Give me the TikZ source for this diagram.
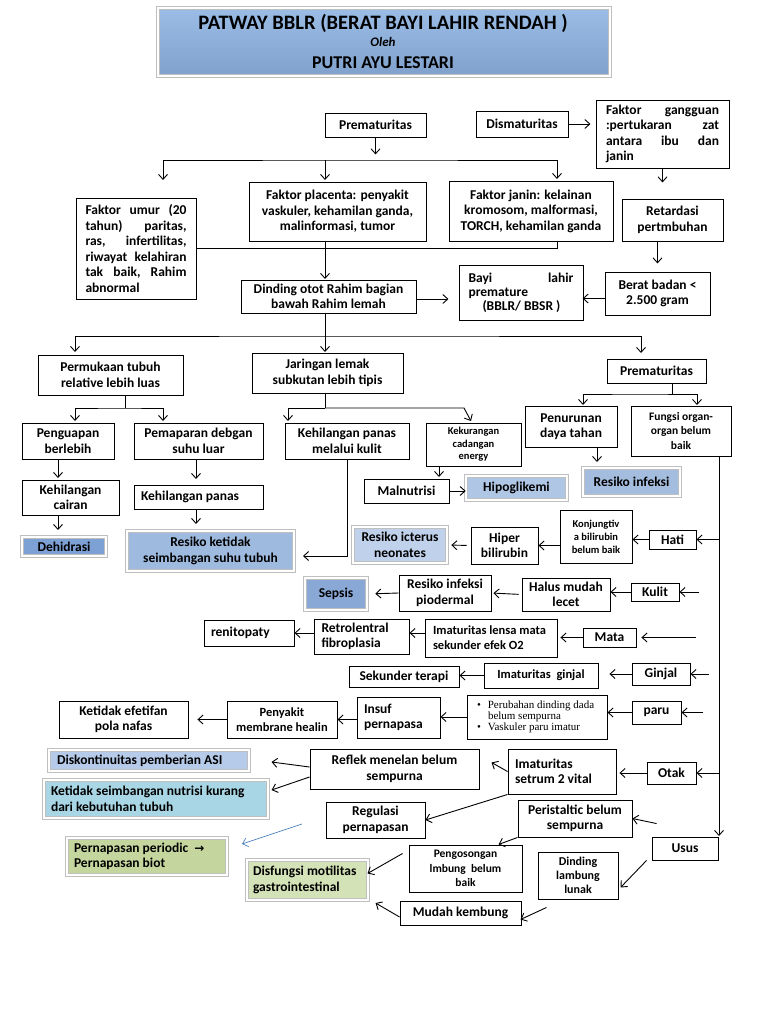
\documentclass[tikz,border=0pt]{standalone}
\usepackage{fontspec}
\setmainfont{Carlito}
\newfontfamily\timesf{Liberation Serif}
\newfontfamily\djv{DejaVu Sans}
\usetikzlibrary{arrows.meta,shadows}
\definecolor{titleblue}{RGB}{141,179,226}
\definecolor{dehblue}{RGB}{125,161,212}
\definecolor{ketblue}{RGB}{158,186,222}
\definecolor{sepblue}{RGB}{137,168,214}
\definecolor{infblue}{RGB}{164,189,222}
\definecolor{hipoblue}{RGB}{176,198,229}
\definecolor{icblue}{RGB}{191,209,235}
\definecolor{diskblue}{RGB}{182,203,233}
\definecolor{cyanbox}{RGB}{168,214,228}
\definecolor{greenA}{RGB}{196,214,158}
\definecolor{greenB}{RGB}{212,226,184}
\definecolor{arrowblue}{RGB}{79,129,189}
\tikzset{
  box/.style={draw, fill=white, line width=.9pt, inner sep=2pt, align=center,
    font=\fontsize{13.5}{15.5}\selectfont\bfseries},
  soft/.style={draw=black!25, double=white, double distance=2.4pt, line width=.6pt,
    fill=#1, inner sep=2pt, align=center, font=\fontsize{13.5}{15.5}\selectfont\bfseries,
    drop shadow={opacity=.25,shadow xshift=1pt,shadow yshift=-1pt}},
}
\begin{document}
\begin{tikzpicture}[x=1pt,y=-1pt,line width=.9pt,>={Straight Barb[length=5pt,width=9pt]}]
\useasboundingbox (0,0) rectangle (768,1024);
% judul
\node[soft=titleblue, top color=titleblue!88!white, bottom color=titleblue!90!black,
  minimum width=452pt, minimum height=68pt] (title) at (384,42) {};
\node[font=\fontsize{20.5}{22}\selectfont\bfseries] (ttl1) at (383,23) {PATWAY BBLR (BERAT BAYI LAHIR RENDAH )};
\node[font=\fontsize{13}{14}\selectfont\bfseries\itshape] (ttl2) at (383,42) {Oleh};
\node[font=\fontsize{18}{19}\selectfont\bfseries] (ttl3) at (383,63) {PUTRI AYU LESTARI};
% penyebab
\node[box, minimum width=101pt, minimum height=24pt] (prem1) at (375.5,125) {Prematuritas};
\node[box, minimum width=92pt, minimum height=26pt] (dismat) at (522,124) {Dismaturitas};
\node[box, text width=113pt, inner xsep=10pt, minimum height=68pt, align=flush left] (fgang) at (662.5,134)
  {Faktor\hfill gangguan\\ :pertukaran\hfill zat\\ antara\hfill ibu\hfill dan\\ janin};
\node[box, text width=101pt, inner xsep=9.5pt, minimum height=101pt, align=flush left] (umur) at (136,248.5)
  {Faktor\hfill umur\hfill (20\\ tahun)\hfill paritas,\\ ras,\hfill infertilitas,\\ riwayat\hfill kelahiran\\ tak\hfill baik,\hfill Rahim\\ abnormal};
\node[box, minimum width=177pt, minimum height=59pt] (plac) at (337.5,211.5) {Faktor placenta: penyakit\\ vaskuler, kehamilan ganda,\\ malinformasi, tumor};
\node[box, minimum width=164pt, minimum height=60pt] (janin) at (531,211) {Faktor janin: kelainan\\ kromosom, malformasi,\\ TORCH, kehamilan ganda};
\node[box, minimum width=101pt, minimum height=42pt] (retard) at (672.5,220) {Retardasi\\ pertmbuhan};
\node[box, minimum width=105pt, minimum height=43pt] (berat) at (657.5,293.5) {Berat badan <\\ 2.500 gram};
\node[box, text width=105pt, inner xsep=9.5pt, minimum height=55pt, align=flush left,
  font=\fontsize{13.5}{14}\selectfont\bfseries] (bayi) at (521,292.5) {Bayi\hfill lahir\\ premature\\ \hspace*{14pt}(BBLR/ BBSR )};
\node[box, minimum width=175pt, minimum height=33pt, inner sep=1pt,
  font=\fontsize{13.5}{15}\selectfont\bfseries] (dind) at (328.5,296.5) {Dinding otot Rahim bagian\\ bawah Rahim lemah};
\draw[->] (prem1.south) -- ++(0,17);
\draw[<->] (163,180) |- (360,160) -| (557,179);
\draw[->] (325,160) -- (325,180);
\draw (umur.east) -| (557,241);
\draw[->] (325,241) -- (325,279);
\draw[->] (dismat.east) -- ++(22,0);
\draw[->] (fgang.south) -- ++(0,14);
\draw[->] (retard.south -| berat.north) -- ++(0,22);
\draw[->] ([yshift=-2.5pt]dind.east) -- ++(32,0);
\draw[->] ([yshift=-5pt]berat.west) -- ++(-22,0);
% cabang
\node[box, minimum width=145pt, minimum height=40pt] (perm) at (110.5,375) {Permukaan tubuh\\ relative lebih luas};
\node[box, minimum width=151pt, minimum height=40pt] (jar) at (327.5,373) {Jaringan lemak\\ subkutan lebih tipis};
\node[box, minimum width=99pt, minimum height=24pt] (prem2) at (656.5,371) {Prematuritas};
\node[box, minimum width=92pt, minimum height=36pt] (peng) at (68,441) {Penguapan\\ berlebih};
\node[box, minimum width=129pt, minimum height=36pt] (pemap) at (198.5,441) {Pemaparan debgan\\ suhu luar};
\node[box, minimum width=124pt, minimum height=36pt] (khpkulit) at (347,441) {Kehilangan panas\\ melalui kulit};
\node[box, minimum width=95pt, minimum height=43pt, font=\fontsize{10.5}{12.5}\selectfont\bfseries] (kekur) at (473.5,444.5) {Kekurangan\\ cadangan\\ energy};
\node[box, minimum width=85pt, minimum height=24pt] (malnut) at (406.5,491) {Malnutrisi};
\node[soft=hipoblue, minimum width=101pt, minimum height=24pt] (hipo) at (516.5,488) {Hipoglikemi};
\node[box, minimum width=92pt, minimum height=41pt] (penur) at (571,426.5) {Penurunan\\ daya tahan};
\node[box, minimum width=100pt, minimum height=50pt, font=\fontsize{11.5}{14.5}\selectfont\bfseries] (fungsi) at (681,431) {Fungsi organ-\\ organ belum\\ baik};
\node[soft=infblue, minimum width=97pt, minimum height=28pt] (resinf) at (631.5,482) {Resiko infeksi};
\node[box, minimum width=97pt, minimum height=35pt] (kcair) at (70.5,497.5) {Kehilangan\\ cairan};
\node[soft=dehblue, minimum width=84pt, minimum height=19pt] (dehid) at (64,546.5) {Dehidrasi};
\node[box, minimum width=129pt, minimum height=24pt, text width=115pt, align=flush left] (khpanas) at (198.5,497) {Kehilangan panas};
\node[soft=ketblue, minimum width=167pt, minimum height=40pt] (rketidak) at (210.5,551) {Resiko ketidak\\ seimbangan suhu tubuh};
\draw (325,313) -- (325,336);
\draw[<->] (75,352) |- (360,336) -| (641,353);
\draw[->] (325,336) -- (325,352);
\draw (125,395) -- (125,408);
\draw[<->] (75,421) |- (120,408) -| (163,421);
\draw (325,393) -- (325,408);
\draw[->] (325,408) -- (288,408) -- (288,421);
\draw[->] (325,408) -- (464,408) -- (471,421);
\draw[->] (439,466) -- (439,477);
\draw[->] (malnut.east) -- (hipo.west |- malnut.east);
\draw (672,383) -- (672,394);
\draw[<->] (583,405) |- (640,394) -| (697,405);
\draw[->] (597,447) -- (597,462);
\draw[->] (58,459) -- (58,478);
\draw[->] (58,515) -- (58,530);
\draw[->] (196,459) -- (196,479);
\draw[->] (196,509) -- (196,524);
\draw[->] (khpkulit.south) |- (303,556);
% organ
\node[soft=icblue, minimum width=94pt, minimum height=36pt] (ricter) at (400,545) {Resiko icterus\\ neonates};
\node[box, minimum width=67pt, minimum height=37pt] (hiper) at (504.5,545.5) {Hiper\\ bilirubin};
\node[box, minimum width=72pt, minimum height=53pt, font=\fontsize{10.5}{13}\selectfont\bfseries] (konj) at (596,536.5) {Konjungtiv\\ a bilirubin\\ belum baik};
\node[box, minimum width=47pt, minimum height=19pt] (hati) at (672.5,539.5) {Hati};
\node[soft=sepblue, minimum width=62pt, minimum height=32pt] (sepsis) at (336,594) {Sepsis};
\node[box, minimum width=92pt, minimum height=36pt] (piod) at (445,593) {Resiko infeksi\\ piodermal};
\node[box, minimum width=88pt, minimum height=33pt] (halus) at (566,594.5) {Halus mudah\\ lecet};
\node[box, minimum width=48pt, minimum height=18pt] (kulit) at (655,592) {Kulit};
\node[box, minimum width=90pt, minimum height=26pt, text width=76pt, align=flush left] (renit) at (249,633) {renitopaty};
\node[box, minimum width=95pt, minimum height=35pt, text width=80pt, align=flush left] (retro) at (361.5,636.5) {Retrolentral\\ fibroplasia};
\node[box, minimum width=132pt, minimum height=38pt, text width=116pt, align=flush left,
  font=\fontsize{12.5}{15}\selectfont\bfseries] (lensa) at (491,638) {Imaturitas lensa mata\\ sekunder efek O2};
\node[box, minimum width=53pt, minimum height=19pt] (mata) at (609.5,637.5) {Mata};
\node[box, minimum width=110pt, minimum height=21pt] (sekter) at (404,676.5) {Sekunder terapi};
\node[box, minimum width=114pt, minimum height=25pt, font=\fontsize{12.5}{15}\selectfont\bfseries] (imgin) at (541,675.5) {Imaturitas\ \ ginjal};
\node[box, minimum width=58pt, minimum height=22pt] (ginjal) at (661,674) {Ginjal};
\node[box, minimum width=140pt, minimum height=44pt, text width=120pt, align=flush left,
  font=\timesf\fontsize{11}{11}\selectfont] (perub) at (537,717)
  {\textbullet\hspace{7pt}Perubahan dinding dada\\ \hspace*{11pt}belum sempurna\\ \textbullet\hspace{7pt}Vaskuler paru imatur};
\node[box, minimum width=49pt, minimum height=23pt] (paru) at (656.5,712.5) {paru};
\node[box, minimum width=83pt, minimum height=41pt, text width=69pt, align=flush left] (insuf) at (398.5,717.5) {Insuf\\ pernapasa};
\node[box, minimum width=110pt, minimum height=37pt, font=\fontsize{12.5}{14.5}\selectfont\bfseries] (penyak) at (282,719.5) {Penyakit\\ membrane healin};
\node[box, minimum width=129pt, minimum height=37pt] (ketef) at (123.5,719.5) {Ketidak efetifan\\ pola nafas};
\node[box, minimum width=169pt, minimum height=40pt] (reflek) at (394.5,769) {Reflek menelan belum\\ sempurna};
\node[box, minimum width=108pt, minimum height=45pt, text width=94pt, align=flush left] (imset) at (562,771.5) {Imaturitas\\ setrum 2 vital};
\node[box, minimum width=49pt, minimum height=22pt] (otak) at (671.5,773) {Otak};
\node[soft=diskblue, minimum width=200pt, minimum height=21pt, text width=184pt, align=flush left] (diskon) at (149,760.5) {Diskontinuitas pemberian ASI};
\node[soft=cyanbox, minimum width=224pt, minimum height=38pt, text width=210pt, align=flush left] (ketseim) at (156,799) {Ketidak seimbangan nutrisi kurang\\ dari kebutuhan tubuh};
\node[box, minimum width=99pt, minimum height=36pt] (regul) at (375.5,820) {Regulasi\\ pernapasan};
\node[box, minimum width=114pt, minimum height=37pt] (peris) at (575,818.5) {Peristaltic belum\\ sempurna};
\node[box, minimum width=66pt, minimum height=23pt] (usus) at (685,848.5) {Usus};
\node[soft=greenA, minimum width=160pt, minimum height=37pt, text width=146pt, align=flush left] (pernap) at (147,856.5) {Pernapasan periodic \ {\djv\bfseries\fontsize{12}{14}\selectfont →}\\ Pernapasan biot};
\node[soft=greenB, minimum width=121pt, minimum height=40pt, text width=109pt, align=flush left] (disf) at (307.5,880) {Disfungsi motilitas\\ gastrointestinal};
\node[box, minimum width=113pt, minimum height=47pt, font=\fontsize{11.5}{14.5}\selectfont\bfseries] (pengos) at (465.5,868.5) {Pengosongan\\ lmbung\ \ belum\\ baik};
\node[box, minimum width=80pt, minimum height=47pt, font=\fontsize{12}{14}\selectfont\bfseries] (dlamb) at (578,875.5) {Dinding\\ lambung\\ lunak};
\node[box, minimum width=121pt, minimum height=24pt] (mudah) at (460.5,913) {Mudah kembung};
\draw[->] (719,456) -- (719,836);
\draw[->] (719,539.5) -- (hati.east);
\draw[->] (699,592) -- (kulit.east);
\draw[->, shorten >=5pt] (696,637.5) -- (mata.east);
\draw[->] (709,674) -- (ginjal.east);
\draw[->] (703,712.5) -- (paru.east);
\draw[->] (719,773) -- (otak.east);
\draw[->] (hati.west) -- (hati.west -| konj.east);
\draw[->] (konj.west |- hiper.east) -- (hiper.east);
\draw[->, shorten <=4pt, shorten >=4pt] (hiper.west) -- (ricter.east);
\draw[->] (kulit.west) -- (halus.east |- kulit.west);
\draw[->, shorten <=3pt, shorten >=2pt] (halus.west) -- (piod.east);
\draw[->, shorten >=8pt] (piod.west) -- (sepsis.east);
\draw[->, shorten >=3pt] (mata.west) -- (lensa.east |- mata.west);
\draw[->] (lensa.west |- renit.east) -- (retro.east |- renit.east);
\draw[->] (retro.west |- renit.east) -- (renit.east);
\draw[->, shorten >=11pt] (ginjal.west) -- (imgin.east |- ginjal.west);
\draw[->] (imgin.west) -- (sekter.east |- imgin.west);
\draw[->] (paru.west) -- (perub.east |- paru.west);
\draw[->] (perub.west) -- (insuf.east |- perub.west);
\draw[->] (insuf.west |- penyak.east) -- (penyak.east);
\draw[->, shorten >=9pt] (penyak.west) -- (ketef.east);
\draw[->, shorten >=3pt] (otak.west) -- (imset.east |- otak.west);
\draw[->] (imset.west) -- ++(-16,-9);
\draw[->] (imset.south west) -- (regul.east);
\draw[->] ([yshift=2pt]reflek.west) -- ++(-38,-5);
\draw[->] ([yshift=-8pt]reflek.west) -- ++(-38,13);
\draw[->, arrowblue, line width=.7pt] (302,824) -- (242,844);
\draw[->] ([shift={(5,-13)}]usus.north west) -- (peris.east);
\draw[->] (peris.south west) -- ++(-19,7);
\draw[->] ([shift={(-6,-15)}]pengos.west) -- ++(-35,20);
\draw[->] ([yshift=-4pt]mudah.west) -- ++(-24,-14);
\draw[->] ([xshift=-5pt]usus.south west) -- ++(-26,27);
\draw[->] ([shift={(9,8)}]dlamb.south west) -- ++(-26,12);
\end{tikzpicture}
\end{document}
